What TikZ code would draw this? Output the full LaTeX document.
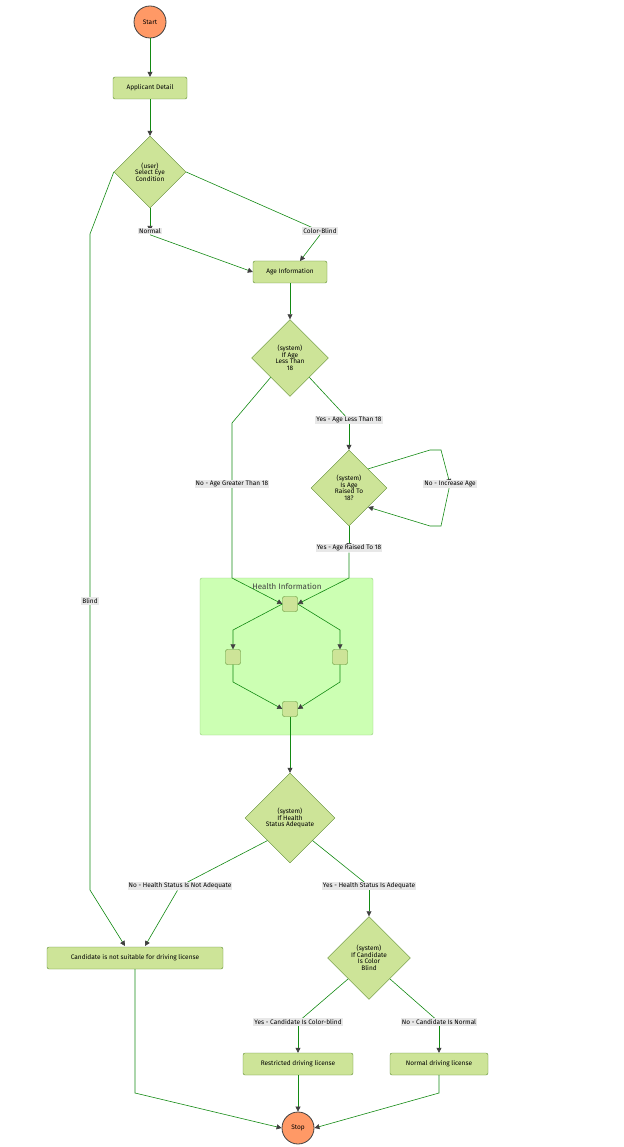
\documentclass[tikz,border=0pt]{standalone}
\usepackage{fontspec}
\setmainfont{Fira Sans}
\usetikzlibrary{shapes.geometric,arrows.meta}
\definecolor{boxfill}{HTML}{CDE498}
\definecolor{boxline}{HTML}{5A8A2E}
\definecolor{edge}{HTML}{138A13}
\definecolor{endfill}{HTML}{FF9966}
\definecolor{grpfill}{HTML}{CCFFB3}
\definecolor{grpline}{HTML}{93C97A}
\definecolor{lblfill}{HTML}{E8E8E8}
\tikzset{
  proc/.style={draw=boxline,fill=boxfill,rounded corners=2pt,minimum height=22pt,font=\fontsize{6.5}{7}\selectfont,inner xsep=5pt},
  dec/.style={diamond,draw=boxline,fill=boxfill,aspect=1,inner sep=0pt,align=center,font=\fontsize{6.5}{6.5}\selectfont},
  term/.style={circle,draw=black!75,fill=endfill,thick,minimum size=32pt,inner sep=0pt,font=\fontsize{6.5}{7}\selectfont},
  dot/.style={draw=boxline,fill=boxfill,rounded corners=2pt,minimum size=15pt,inner sep=0pt},
  flow/.style={draw=edge,semithick,-{Triangle[length=5pt,width=5pt,fill=black!75,color=black!75]}},
  lbl/.style={fill=lblfill,inner sep=1pt,font=\fontsize{6.5}{7}\selectfont},
}
\begin{document}
\begin{tikzpicture}[x=1pt,y=-1pt]
\useasboundingbox (0,0) rectangle (623,1147);

% health information group
\draw[grpline,fill=grpfill,rounded corners=2pt] (200,578) rectangle (373,735);
\node[font=\fontsize{8}{8}\selectfont,text=black!75] (grp) at (287,586) {Health Information};

\node[term] (start) at (150,22) {Start};
\node[proc,minimum width=74pt] (appl) at (150,88) {Applicant Detail};
\node[dec,minimum size=72pt] (eye) at (150,172) {(user)\\Select Eye\\Condition};
\node[proc,minimum width=74pt] (age) at (290,272) {Age Information};
\node[dec,minimum size=77pt] (less) at (290,358) {(system)\\If Age\\Less Than\\18};
\node[dec,minimum size=76pt] (raised) at (349,488) {(system)\\Is Age\\Raised To\\18?};
\node[dot] (ht) at (290,604) {};
\node[dot] (hl) at (233,657) {};
\node[dot] (hr) at (340,657) {};
\node[dot] (hb) at (290,709) {};
\node[dec,minimum size=90pt] (health) at (290,818) {(system)\\If Health\\Status Adequate};
\node[proc,minimum width=176pt] (unfit) at (135,958) {Candidate is not suitable for driving license};
\node[dec,minimum size=83pt] (color) at (369,958) {(system)\\If Candidate\\Is Color\\Blind};
\node[proc,minimum width=110pt] (restr) at (298,1064) {Restricted driving license};
\node[proc,minimum width=98pt] (normal) at (439,1064) {Normal driving license};
\node[term] (stop) at (298,1128) {Stop};

\coordinate (b1) at (90,234);
\coordinate (b2) at (90,890);
\coordinate (n1) at (232,423);
\coordinate (n2) at (232,578);
\coordinate (y1) at (349,578);
\coordinate (l1) at (430,450);
\coordinate (l2) at (441,450);
\coordinate (l3) at (441,526);
\coordinate (l4) at (430,526);
\coordinate (c1) at (135,1093);
\coordinate (c2) at (439,1093);

\draw[flow] (start)--(appl);
\draw[flow] (appl)--(eye);
\draw[flow] (eye.south)--(150,231) node[lbl] (lnormal) {Normal};
\draw[flow] (lnormal.south)--(age.west);
\draw[draw=edge,semithick] (eye.east)--(320,231) node[lbl] (lcb) {Color-Blind};
\draw[flow] (lcb.south)--(300,261);
\draw[flow] (eye.west)--(b1)--(b2)--(125,946);
\node[lbl] (lblind) at (90,601) {Blind};
\draw[flow] (age)--(less);
\draw[draw=edge,semithick] (less.south east)--(349,420) node[lbl] (lyes) {Yes - Age Less Than 18};
\draw[flow] (lyes)--(raised);
\draw[flow] (less.south west)--(n1)--(n2)--(ht.west);
\node[lbl] (lno) at (232,484) {No - Age Greater Than 18};
\draw[flow] (raised.north east)--(l1)--(l2)--(450,484) node[lbl] (linc) {No - Increase Age};
\draw[flow] (linc)--(l3)--(l4)--(raised.south east);
\draw[flow] (raised)--(349,548) node[lbl] (lrais) {Yes - Age Raised To 18};
\draw[flow] (lrais)--(y1)--(ht.east);
\draw[flow] (ht.west)--(233,630)--(hl);
\draw[flow] (ht.east)--(340,630)--(hr);
\draw[flow] (hl)--(233,682)--(hb.west);
\draw[flow] (hr)--(340,682)--(hb.east);
\draw[flow] (hb)--(health);
\draw[draw=edge,semithick] (health.south west)--(180,886) node[lbl] (lnot) {No - Health Status Is Not Adequate};
\draw[flow] (lnot)--(145,946);
\draw[draw=edge,semithick] (health.south east)--(369,886) node[lbl] (lade) {Yes - Health Status Is Adequate};
\draw[flow] (lade)--(color);
\draw[draw=edge,semithick] (color.south west)--(298,1022) node[lbl] (lrc) {Yes - Candidate Is Color-blind};
\draw[flow] (lrc)--(restr);
\draw[draw=edge,semithick] (color.south east)--(439,1022) node[lbl] (lnc) {No - Candidate Is Normal};
\draw[flow] (lnc)--(normal);
\draw[flow] (unfit)--(c1)--(stop.west);
\draw[flow] (restr)--(stop);
\draw[flow] (normal)--(c2)--(stop.east);
\end{tikzpicture}
\end{document}
